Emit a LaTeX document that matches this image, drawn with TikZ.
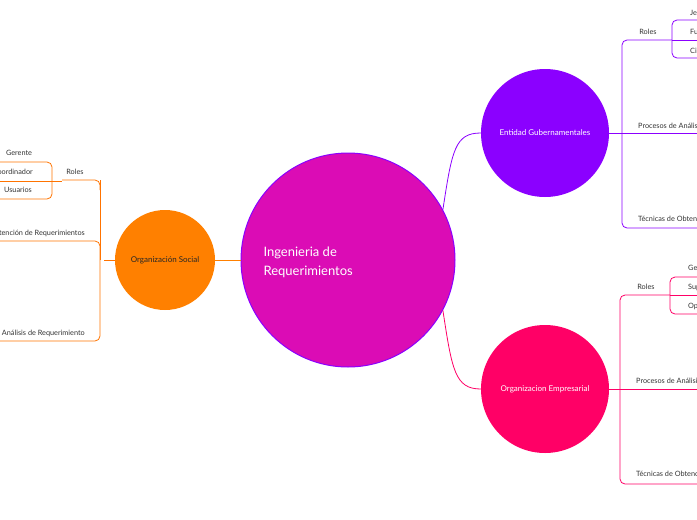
\documentclass[tikz,border=0pt]{standalone}
\usepackage{fontspec}
\setmainfont{Lato}
\begin{document}
\begin{tikzpicture}[x=1pt,y=-1pt,
  lbl/.style={font=\fontsize{7.3}{8}\selectfont,text=black!80,inner sep=0pt},
  clbl/.style={font=\fontsize{8}{9}\selectfont,inner sep=0pt},
  ocol/.style={draw=orange!90!red,line width=0.8pt,rounded corners=5pt},
  pcol/.style={draw=pur,line width=0.8pt,rounded corners=5pt},
  kcol/.style={draw=pnk,line width=0.8pt,rounded corners=5pt}]
\definecolor{pur}{HTML}{8B00FF}
\definecolor{pnk}{HTML}{FF0066}
\definecolor{mag}{HTML}{DB0CB5}
\definecolor{org}{HTML}{FF8000}
\useasboundingbox (0,0) rectangle (697,520);
\clip (0,0) rectangle (697,520);
% circles
\node[circle,minimum size=214pt,fill=mag,draw=pur,line width=1pt] (c) at (348,260) {};
\node[text=white,align=left,font=\fontsize{13}{19}\selectfont,anchor=west] (ct) at (260,262) {Ingenieria de\\Requerimientos};
\node[circle,minimum size=100pt,fill=org] (o) at (165,260) {};
\node[clbl,text=black!85] (ot) at (165,260) {Organización Social};
\node[circle,minimum size=128pt,fill=pur] (g) at (545,133) {};
\node[clbl,text=white] (gt) at (545,133) {Entidad Gubernamentales};
\node[circle,minimum size=128pt,fill=pnk] (e) at (545,389) {};
\node[clbl,text=white] (et) at (545,389) {Organizacion Empresarial};
% main connectors
\draw[draw=org,line width=0.8pt] (o.east) -- (c.west);
\draw[draw=pur,line width=0.8pt] (c.28) .. controls (452,150) and (455,133) .. (g.west);
\draw[draw=pnk,line width=0.8pt] (c.-28) .. controls (452,370) and (455,389) .. (e.west);
% orange branches
\coordinate (ob) at (104,260);
\draw[ocol] (o.west) -- (ob);
\draw[ocol] (0,241) -- (86,241) -- (100,241) |- (0,341);
\draw[ocol] (100,190) -- (100,180) -- (62,180);
\draw[ocol] (100,260) -- (100,180);
\draw[ocol] (0,162) -- (52,162) -- (52,199) -- (0,199);
\draw[ocol] (0,181) -- (62,181);
\node[lbl] (or) at (75,172) {Roles};
\node[lbl,anchor=east] (o1) at (85,233) {Obtención de Requerimientos};
\node[lbl,anchor=east] (o2) at (85,333) {Análisis de Requerimiento};
\node[lbl] (r1) at (19,153) {Gerente};
\node[lbl,anchor=east] (r2) at (33,172) {Coordinador};
\node[lbl] (r3) at (18,190) {Usuarios};
% purple branches
\draw[pcol] (g.east) -- (697,133);
\draw[pcol] (672,40) -- (622,40) -- (622,228) -- (697,228);
\draw[pcol] (697,20) -- (672,20) -- (672,58) -- (697,58);
\draw[pcol] (672,40) -- (697,40);
\node[lbl] (gr) at (648,32) {Roles};
\node[lbl,anchor=west] (g1) at (690,13) {Jefe};
\node[lbl,anchor=west] (g2) at (690,32) {Funcionarios};
\node[lbl,anchor=west] (g3) at (690,51) {Ciudadanos};
\node[lbl,anchor=west] (g4) at (638,126) {Procesos de Análisis};
\node[lbl,anchor=west] (g5) at (638,219) {Técnicas de Obtención};
% pink branches
\draw[kcol] (e.east) -- (697,389);
\draw[kcol] (670,295) -- (620,295) -- (620,484) -- (697,484);
\draw[kcol] (697,277) -- (670,277) -- (670,314) -- (697,314);
\draw[kcol] (670,295) -- (697,295);
\node[lbl] (er) at (646,287) {Roles};
\node[lbl,anchor=west] (e1) at (688,268) {Gerente};
\node[lbl,anchor=west] (e2) at (688,287) {Supervisor};
\node[lbl,anchor=west] (e3) at (688,306) {Operarios};
\node[lbl,anchor=west] (e4) at (636,381) {Procesos de Análisis};
\node[lbl,anchor=west] (e5) at (636,474) {Técnicas de Obtención};
\end{tikzpicture}
\end{document}
